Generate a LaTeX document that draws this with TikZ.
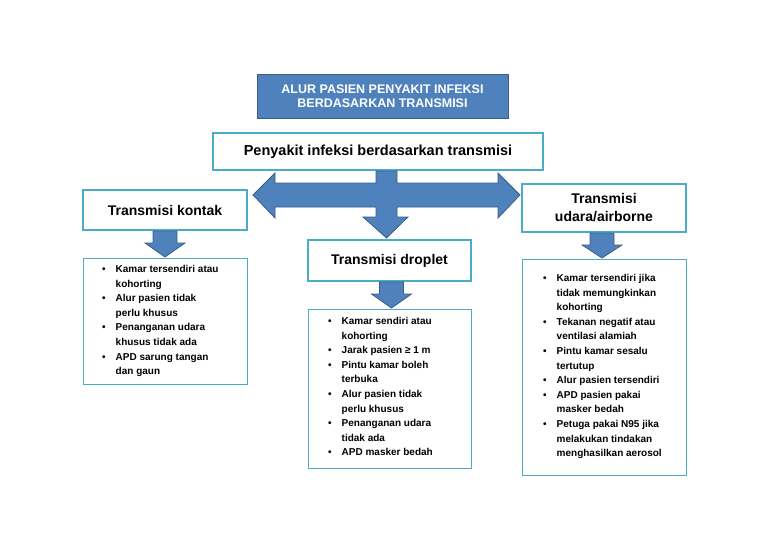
\documentclass[tikz,border=0pt]{standalone}
\usepackage{fontspec}
\setmainfont{Liberation Sans}
\definecolor{blu}{HTML}{4F81BD}
\definecolor{bdk}{HTML}{385D8A}
\definecolor{teal}{HTML}{4BACC6}
\begin{document}
\begin{tikzpicture}[x=1pt,y=-1pt,
  box/.style={draw=teal,line width=1.2pt,fill=white,font=\bfseries},
  lst/.style={draw=teal,line width=1.2pt,fill=white,anchor=north west,inner sep=0pt},
  ltxt/.style={anchor=north west,inner sep=0pt,font=\bfseries\fontsize{10}{14.6}\selectfont},
  arr/.style={fill=blu,draw=bdk,line width=0.8pt}]
\useasboundingbox (0,0) rectangle (768,543);
% title
\node[draw=bdk,line width=1pt,fill=blu,text=white,font=\bfseries\fontsize{12.5}{14}\selectfont,align=center,minimum width=251pt,minimum height=44pt] (title) at (382.5,96) {ALUR PASIEN PENYAKIT INFEKSI\\BERDASARKAN TRANSMISI};
\node[box,minimum width=330pt,minimum height=37pt,font=\bfseries\fontsize{14.5}{16}\selectfont] (top) at (378,151.5) {Penyakit infeksi berdasarkan transmisi};
% big arrows
\draw[arr] (376,171) -- (397,171) -- (397,183) -- (498,183) -- (498,173) -- (520,195) -- (498,218) -- (498,207) -- (397,207) -- (397,217) -- (408,217) -- (386.5,238) -- (363,217) -- (376,217) -- (376,207) -- (275,207) -- (275,218) -- (253,195) -- (275,173) -- (275,183) -- (376,183) -- cycle;
\node[box,minimum width=164pt,minimum height=40pt,font=\bfseries\fontsize{14}{16}\selectfont] (kon) at (165,210) {Transmisi kontak};
\node[box,minimum width=163pt,minimum height=41pt,font=\bfseries\fontsize{14}{16}\selectfont] (dro) at (389.5,260.5) {Transmisi droplet};
\node[box,minimum width=164pt,minimum height=48pt,font=\bfseries\fontsize{14}{18}\selectfont,align=center] (air) at (604,208) {Transmisi\\udara/airborne};
% small arrows
\foreach \cx/\ya/\yb in {165/231/257, 391.5/282/308, 602/233/258}{
  \draw[arr] (\cx-12,\ya) -- (\cx+12,\ya) -- (\cx+12,\ya+12) -- (\cx+20,\ya+12) -- (\cx,\yb) -- (\cx-20,\ya+12) -- (\cx-12,\ya+12) -- cycle;
}
% lists
\node[lst,minimum width=164pt,minimum height=126pt] (l1) at (83,258) {};
\node[ltxt] (t1) at (102,262) {\begin{tabular}{@{}l@{\hspace{10pt}}l@{}}
\textbullet & Kamar tersendiri atau\\ & kohorting\\
\textbullet & Alur pasien tidak\\ & perlu khusus\\
\textbullet & Penanganan udara\\ & khusus tidak ada\\
\textbullet & APD sarung tangan\\ & dan gaun\end{tabular}};
\node[lst,minimum width=163pt,minimum height=159pt] (l2) at (308,309) {};
\node[ltxt] (t2) at (328,314) {\begin{tabular}{@{}l@{\hspace{10pt}}l@{}}
\textbullet & Kamar sendiri atau\\ & kohorting\\
\textbullet & Jarak pasien ≥ 1 m\\
\textbullet & Pintu kamar boleh\\ & terbuka\\
\textbullet & Alur pasien tidak\\ & perlu khusus\\
\textbullet & Penanganan udara\\ & tidak ada\\
\textbullet & APD masker bedah\end{tabular}};
\node[lst,minimum width=164pt,minimum height=216pt] (l3) at (522,259) {};
\node[ltxt] (t3) at (543,271) {\begin{tabular}{@{}l@{\hspace{10pt}}l@{}}
\textbullet & Kamar tersendiri jika\\ & tidak memungkinkan\\ & kohorting\\
\textbullet & Tekanan negatif atau\\ & ventilasi alamiah\\
\textbullet & Pintu kamar sesalu\\ & tertutup\\
\textbullet & Alur pasien tersendiri\\
\textbullet & APD pasien pakai\\ & masker bedah\\
\textbullet & Petuga pakai N95 jika\\ & melakukan tindakan\\ & menghasilkan aerosol\end{tabular}};
\end{tikzpicture}
\end{document}
